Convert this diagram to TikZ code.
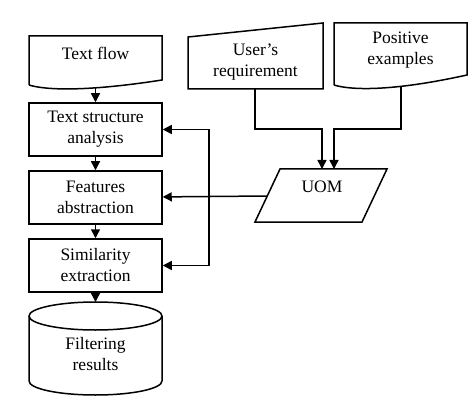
\documentclass[tikz,border=0pt]{standalone}
\usepackage{fontspec}
\setmainfont{Liberation Serif}
\usetikzlibrary{arrows.meta,positioning}

\begin{document}
\begin{tikzpicture}[x=1pt, y=1pt, line width=1.5pt,
    every node/.style={font=\fontsize{17.5}{21}\selectfont, align=center},
    box/.style={draw, minimum width=133pt, minimum height=53pt, inner sep=0pt},
    arr/.style={-{Triangle[length=9pt,width=9pt]}},
    arrb/.style={{Triangle[length=9pt,width=9pt]}-{Triangle[length=9pt,width=9pt]}}]
    \useasboundingbox (0,0) rectangle (474,-417);

    % text flow (document shape)
    \draw (29,-85) -- (29,-36) -- (162,-36) -- (162,-80)
    .. controls (85,-92) and (45,-90) .. (29,-85);
    \node (flow) at (95.5,-53) {Text flow};
    \coordinate (flow-b) at (95.5,-88.5);

    % process boxes
    \node[box] (tsa) at (95.5,-129.5) {Text structure\\analysis};
    \node[box, below=13.5pt of tsa] (fea) {Features\\abstraction};
    \node[box, below=13.5pt of fea] (sim) {Similarity\\extraction};

    % filtering results (cylinder)
    \draw (29,-316) -- (29,-381)
    arc[start angle=180, end angle=360, x radius=66.5pt, y radius=14pt] -- (162,-316);
    \draw (95.5,-316) ellipse[x radius=66.5pt, y radius=14pt];
    \node (res) at (95.5,-354) {Filtering\\results};
    \coordinate (res-t) at (95.5,-302);

    % user's requirement (manual input)
    \draw (188,-37) -- (323,-23) -- (323,-89) -- (188,-89) -- cycle;
    \node (req) at (255.5,-62) {User’s\\requirement};
    \coordinate (req-b) at (255,-89);

    % positive examples (document shape)
    \draw (334,-85) -- (334,-23) -- (467,-23) -- (467,-75)
    .. controls (390,-92) and (350,-90) .. (334,-85);
    \node (pos) at (400.5,-50.5) {Positive\\examples};
    \coordinate (pos-b) at (401,-87.5);

    % UOM (parallelogram)
    \draw (255,-222) -- (280,-169) -- (387,-169) -- (362,-222) -- cycle;
    \node (uom) at (322,-187) {UOM};
    \coordinate (uom-a) at (322,-169);
    \coordinate (uom-b) at (334,-169);
    \coordinate (uom-l) at (267.3,-196);

    % main flow
    \draw[arr] (flow-b) -- (tsa);
    \foreach \a/\b in {tsa/fea, fea/sim} \draw[arr] (\a) -- (\b);
    \draw[arr] (sim) -- (res-t);

    % inputs to UOM
    \draw[arr] (req-b) -- ++(0,-40) -| (uom-a);
    \draw[arr] (pos-b) -- ++(0,-41.5) -| (uom-b);

    % UOM to the boxes
    \draw[arr] (uom-l) -- (fea);
    \draw[arrb] (tsa.east) -- ++(46,0) |- (sim.east);
\end{tikzpicture}
\end{document}
